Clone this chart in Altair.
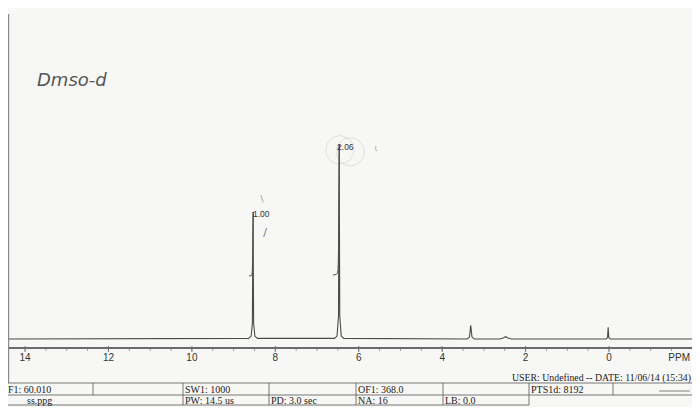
import altair as alt
import pandas as pd

# ---------------- data ----------------
# spectrum trace (ppm, relative intensity; tallest peak = 100)
spec_ppm = [14.41, 8.64, 8.58, 8.55, 8.535, 8.52, 8.49, 8.43,
            6.58, 6.52, 6.485, 6.47, 6.455, 6.42, 6.36,
            3.40, 3.345, 3.315, 3.285, 3.23,
            2.62, 2.54, 2.48, 2.42, 2.34,
            0.07, 0.035, 0.02, 0.005, -0.03, -2.0]
spec_int = [0, 0.3, 1.5, 8, 65.5, 8, 1.5, 0.3,
            0.3, 1.5, 12, 100, 12, 1.5, 0.3,
            0, 1, 7, 1, 0,
            0, 0.5, 1.2, 0.5, 0,
            0, 0.8, 6, 0.8, 0, 0]

# integral traces
int_group = ["A"] * 6 + ["B"] * 6
int_ppm = [8.63, 8.575, 8.555, 8.54, 8.53, 8.525,
           6.62, 6.54, 6.50, 6.48, 6.47, 6.465]
int_val = [32.5, 32.7, 34, 45, 60, 65.5,
           33, 33.3, 35, 55, 85, 100]

int_label_text = ["1.00", "2.06"]
int_label_ppm = [8.535, 6.52]
int_label_val = [64.4, 99.0]

tick_major = [14, 12, 10, 8, 6, 4, 2, 0]
tick_minor = [v / 2 for v in range(-3, 29)]

# footer table text
row1_text = ["F1: 60.010", "SW1: 1000", "OF1: 368.0", "PTS1d: 8192"]
row2_text = ["ss.ppg", "PW: 14.5 us", "PD: 3.0  sec", "NA: 16", "LB: 0.0"]
user_text = "USER: Undefined -- DATE: 11/06/14  (15:34)"

# ---------------- layout (chart pixel coordinates) ----------------
W, H = 684, 399
xs = alt.Scale(domain=[14.409, -1.990], nice=False, zero=False)
ys = alt.Scale(domain=[-35.05, 170.62], nice=False, zero=False)

spec_df = pd.DataFrame({"ppm": spec_ppm, "I": spec_int, "o": range(len(spec_ppm))})
int_df = pd.DataFrame({"g": int_group, "ppm": int_ppm, "I": int_val,
                       "o": range(len(int_ppm))})
lab_df = pd.DataFrame({"t": int_label_text, "ppm": int_label_ppm, "I": int_label_val})
maj_df = pd.DataFrame({"ppm": tick_major, "t": [str(v) for v in tick_major]})
min_df = pd.DataFrame({"ppm": tick_minor})

X = lambda: alt.X("ppm:Q", scale=xs, axis=None)
Y = lambda: alt.Y("I:Q", scale=ys, axis=None)

spectrum = alt.Chart(spec_df).mark_line(color="#4a4a4a", strokeWidth=1.1).encode(
    x=X(), y=Y(), order="o:Q")
integrals = alt.Chart(int_df).mark_line(color="#4a4a4a", strokeWidth=1, interpolate="monotone").encode(
    x=X(), y=Y(), detail="g:N", order="o:Q")
int_labels = alt.Chart(lab_df).mark_text(align="left", baseline="middle", font="Liberation Sans",
                                         fontSize=8.5, color="#333").encode(
    x=X(), y=Y(), text="t:N")

circ_df = pd.DataFrame({"ppm": [6.45, 6.2], "I": [97.5, 96.5]})
circles = alt.Chart(circ_df).mark_point(shape="circle", size=800, filled=False,
                                        color="#cdcdcd", strokeWidth=0.8).encode(x=X(), y=Y())

axis_line = alt.Chart(maj_df).mark_rule(color="#6a6a6a", strokeWidth=1).encode(
    x=alt.value(0), x2=alt.value(684), y=alt.value(340))
minor_ticks = alt.Chart(min_df).mark_rule(color="#888", strokeWidth=0.8).encode(
    x=X(), y=alt.value(339), y2=alt.value(343))
major_ticks = alt.Chart(maj_df).mark_rule(color="#777", strokeWidth=1).encode(
    x=X(), y=alt.value(338), y2=alt.value(344))
tick_labels = alt.Chart(maj_df).mark_text(baseline="middle", font="Liberation Sans",
                                          fontSize=10, color="#333").encode(
    x=X(), y=alt.value(350), text="t:N")
ppm_label = alt.Chart(maj_df.head(1)).mark_text(align="right", baseline="middle",
                                                font="Liberation Sans", fontSize=10,
                                                color="#333", text="PPM").encode(
    x=alt.value(682), y=alt.value(350))

border = alt.Chart(maj_df.head(1)).mark_rule(color="#8a8a8a", strokeWidth=1.2).encode(
    x=alt.value(0.6), y=alt.value(6), y2=alt.value(375))

hand = alt.Chart(maj_df.head(1)).mark_text(align="left", baseline="middle", font="DejaVu Sans",
                                           fontSize=18, color="#555", fontStyle="italic",
                                           fontWeight=300, text="Dmso-d").encode(
    x=alt.value(29), y=alt.value(73))
pen1 = alt.Chart(maj_df.head(1)).mark_text(font="DejaVu Sans", fontSize=11, color="#777",
                                           text="/").encode(x=alt.value(257), y=alt.value(225))
pen2 = alt.Chart(maj_df.head(1)).mark_text(font="DejaVu Sans", fontSize=9, color="#999",
                                           text="\\").encode(x=alt.value(254), y=alt.value(191))
pen3 = alt.Chart(maj_df.head(1)).mark_text(font="DejaVu Sans", fontSize=9, color="#aaa",
                                           text="ɩ").encode(x=alt.value(368), y=alt.value(140))

# footer table (identity pixel scales)
hl_df = pd.DataFrame({"x": [0, 0, 0], "x2": [684, 684, 521], "y": [375, 387, 397]})
vl_df = pd.DataFrame({"x": [85, 175, 261, 348, 435, 521, 605, 175, 261, 348, 435, 521],
                      "y": [375] * 7 + [387] * 5,
                      "y2": [387] * 7 + [397] * 5})
txt_df = pd.DataFrame({
    "x": [0, 177, 350, 523, 19, 177, 263, 350, 437],
    "y": [385, 385, 385, 385, 396, 396, 396, 396, 396],
    "t": row1_text + row2_text})

XI = lambda f: alt.X(f, scale=None, axis=None)
YI = lambda f: alt.Y(f, scale=None, axis=None)

hlines = alt.Chart(hl_df).mark_rule(color="#555", strokeWidth=0.8).encode(
    x=XI("x:Q"), x2="x2:Q", y=YI("y:Q"))
vlines = alt.Chart(vl_df).mark_rule(color="#555", strokeWidth=0.8).encode(
    x=XI("x:Q"), y=YI("y:Q"), y2="y2:Q")
dash = alt.Chart(maj_df.head(1)).mark_rule(color="#666", strokeWidth=0.8).encode(
    x=alt.value(651), x2=alt.value(682), y=alt.value(383))
texts = alt.Chart(txt_df).mark_text(align="left", baseline="alphabetic", font="Liberation Serif",
                                    fontSize=10, color="#222").encode(
    x=XI("x:Q"), y=YI("y:Q"), text="t:N")
user = alt.Chart(maj_df.head(1)).mark_text(align="right", baseline="alphabetic",
                                           font="Liberation Serif", fontSize=9.8, color="#222",
                                           text=user_text).encode(
    x=alt.value(683), y=alt.value(373))

plot = alt.layer(circles, spectrum, integrals, int_labels, minor_ticks, major_ticks,
                 axis_line, tick_labels, ppm_label, border, hand, pen1, pen2, pen3)
table = alt.layer(hlines, vlines, dash, texts, user)

chart = alt.layer(plot, table).resolve_scale(x="independent", y="independent").properties(
    width=W, height=H, padding=0, autosize=alt.AutoSizeParams(type="none"),
    background="#f7f7f5"
).configure_view(stroke=None)

chart.save("out.html", embed_options={"renderer": "svg", "actions": False})
